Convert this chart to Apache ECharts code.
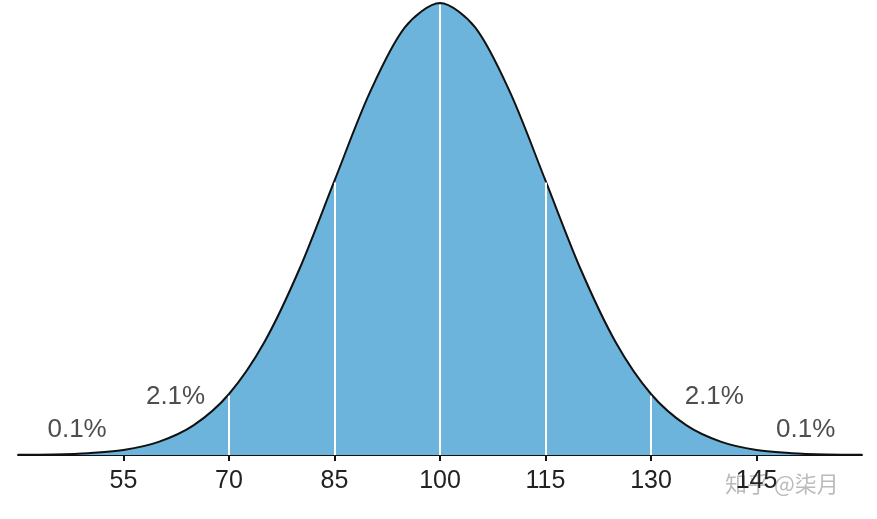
<!DOCTYPE html>
<html lang="en">
<head>
    <meta charset="UTF-8">
    <title>normal curve</title>
    <style>
        html, body { margin: 0; padding: 0; width: 100%; height: 100%; background: #fff; }
        #canvas { width: 877px; height: 519px; }
    </style>
</head>
<body>
<div id="canvas"></div>
<script src="https://cdn.jsdelivr.net/npm/echarts@6.0.0/dist/echarts.min.js"></script>
<script>
    // curve heights (peak = 100), every 5 units from 40 to 160
    const xs = [40, 45, 50, 55, 60, 65, 70, 75, 80, 85, 90, 95, 100,
        105, 110, 115, 120, 125, 130, 135, 140, 145, 150, 155, 160]
    const heights = [0.03, 0.12, 0.4, 1.1, 2.9, 6.6, 13.5, 24.9, 41.1, 60.7, 80.1, 94.6, 100,
        94.6, 80.1, 60.7, 41.1, 24.9, 13.5, 6.6, 2.9, 1.1, 0.4, 0.12, 0.03]
    const tickValues = [55, 70, 85, 100, 115, 130, 145]
    const dividers = [70, 85, 100, 115, 130]
    const dividerTops = [13.5, 60.7, 100, 60.7, 13.5]
    const pctLabels = ['0.1%', '2.1%', '13.6%', '34.1%', '34.1%', '13.6%', '2.1%', '0.1%']
    const pctX = [48.4, 62.4, 77.6, 93.4, 107.1, 121.9, 139, 152]
    const pctY = [5.5, 12.8, 8.6, 27, 27, 8.6, 12.8, 5.5]

    const chart = echarts.init(document.getElementById('canvas'))

    chart.setOption({
        animation: false,
        grid: { left: 18, right: 15, top: 3, bottom: 64 },
        xAxis: {
            type: 'value',
            min: 40,
            max: 160,
            splitLine: { show: false },
            axisLine: { lineStyle: { color: '#111', width: 2 } },
            axisTick: { customValues: tickValues, length: 6, lineStyle: { color: '#111', width: 2 } },
            axisLabel: { customValues: tickValues, color: '#222', fontSize: 25, margin: 14, fontFamily: 'Liberation Sans' }
        },
        yAxis: { type: 'value', min: 0, max: 100, show: false },
        graphic: [{
            type: 'text', left: 725, top: 473,
            style: { text: '知乎 @柒月', fill: '#bbb', font: '22px "Noto Sans CJK SC"' }
        }],
        series: [{
            type: 'line',
            smooth: 0.3,
            symbol: 'none',
            data: xs.map((x, i) => [x, heights[i]]),
            lineStyle: { color: '#111', width: 2 },
            areaStyle: { color: '#6cb4dc', opacity: 1 },
            markLine: {
                silent: true,
                symbol: 'none',
                label: { show: false },
                lineStyle: { color: '#fff', width: 2, type: 'solid' },
                data: dividers.map((x, i) => [{ coord: [x, 0] }, { coord: [x, dividerTops[i] - 0.4] }])
            }
        }, {
            type: 'scatter',
            symbolSize: 0,
            data: pctX.map((x, i) => [x, pctY[i]]),
            label: {
                show: true,
                position: 'inside',
                color: '#222',
                fontSize: 26,
                fontFamily: 'Liberation Sans',
                formatter: p => pctLabels[p.dataIndex]
            }
        }]
    })
</script>
</body>
</html>
